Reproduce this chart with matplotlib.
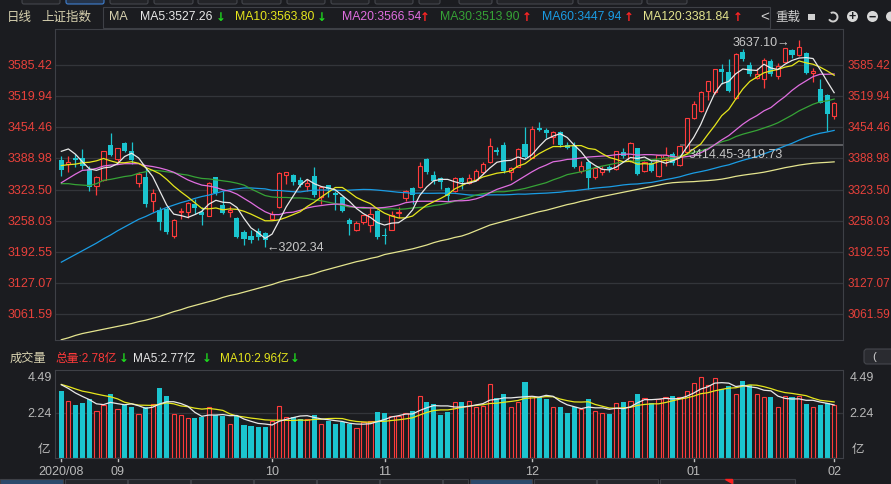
import numpy as np
import matplotlib
matplotlib.use('Agg')
import matplotlib.pyplot as plt
from matplotlib.patches import Rectangle, FancyBboxPatch, Circle, Arc

plt.rcParams['font.family'] = ['Liberation Sans', 'Noto Sans CJK SC', 'DejaVu Sans']

# ---------------- data ----------------
closes = [3363.90, 3380.68, 3385.64, 3373.58, 3329.74, 3350.59, 3403.81, 3395.68, 3410.61, 3404.80,
          3384.98, 3355.37, 3292.59, 3316.42, 3254.63, 3234.82, 3260.35, 3278.81, 3295.68, 3283.92,
          3270.44, 3338.09, 3316.94, 3274.30, 3279.71, 3223.18, 3219.42, 3217.53, 3224.36, 3218.05,
          3272.08, 3358.47, 3359.75, 3340.29, 3332.18, 3336.36, 3312.50, 3328.10, 3325.03, 3312.49,
          3278.00, 3251.12, 3254.32, 3269.24, 3272.74, 3224.53, 3225.12, 3271.07, 3277.44, 3320.13,
          3312.16, 3373.73, 3360.15, 3342.20, 3338.68, 3310.10, 3346.97, 3339.90, 3347.30, 3363.09,
          3377.73, 3414.49, 3402.82, 3362.33, 3369.73, 3408.31, 3391.76, 3451.94, 3449.38, 3442.14,
          3444.58, 3416.60, 3410.18, 3371.96, 3373.28, 3347.19, 3369.12, 3367.23, 3366.98, 3404.87,
          3394.90, 3420.57, 3356.78, 3382.32, 3363.11, 3396.56, 3397.29, 3379.04, 3414.45, 3473.07,
          3502.96, 3528.68, 3550.88, 3576.20, 3570.11, 3531.50, 3608.34, 3598.65, 3565.90, 3566.38,
          3596.22, 3566.26, 3583.09, 3621.26, 3606.75, 3624.24, 3569.43, 3573.34, 3505.18, 3483.07,
          3505.28]
opens = [3386, 3378, 3391, 3391, 3367, 3332, 3344, 3417, 3388, 3421,
         3404, 3337, 3349, 3300, 3281, 3283, 3225, 3276, 3276, 3293,
         3277, 3269, 3349, 3291, 3276, 3263, 3234, 3227, 3236, 3232,
         3262, 3287, 3354, 3354, 3344, 3332, 3353, 3307, 3333, 3316,
         3307, 3260, 3239, 3255, 3250, 3279, 3228, 3239, 3274, 3305,
         3326, 3328, 3388, 3354, 3347, 3326, 3321, 3347, 3337, 3344,
         3360, 3381, 3407, 3417, 3361, 3372, 3419, 3391, 3452, 3449.5,
         3435, 3445, 3417, 3417, 3363, 3381, 3349, 3360, 3370, 3367,
         3402, 3384, 3410, 3363, 3379, 3353, 3391, 3398, 3375, 3402,
         3474, 3489, 3530, 3528, 3577, 3571, 3517, 3612, 3585, 3559,
         3555, 3594, 3563, 3592, 3616, 3606, 3611, 3568, 3535, 3522,
         3479]
highs = [3395, 3395, 3398, 3409, 3374, 3353, 3405, 3442, 3412, 3423,
         3424, 3360, 3368, 3325, 3288, 3286, 3262, 3284, 3297, 3304,
         3286, 3340, 3351, 3321, 3290, 3265, 3239, 3239, 3242, 3235,
         3279, 3360, 3361, 3356, 3349, 3346, 3370, 3332, 3333, 3321,
         3311, 3264, 3258, 3270, 3288, 3281, 3242, 3279, 3286, 3322,
         3328, 3381, 3389, 3363, 3351, 3330, 3349, 3349, 3356, 3367,
         3381, 3431, 3414, 3423, 3370, 3410, 3456, 3458, 3465, 3454,
         3447, 3447, 3423, 3423, 3384, 3388, 3372, 3374, 3375, 3405,
         3412, 3423, 3412, 3384, 3384, 3397, 3414, 3402, 3415, 3475,
         3510, 3530, 3552, 3578, 3588, 3597, 3611, 3620, 3591, 3580,
         3600, 3597, 3590, 3622, 3620, 3637.10, 3612, 3580, 3556, 3524,
         3507]
lows = [3353, 3360, 3370, 3367, 3321, 3312, 3342, 3394, 3382, 3402,
        3377, 3330, 3286, 3277, 3239, 3230, 3221, 3262, 3263, 3272,
        3249, 3267, 3312, 3272, 3265, 3222, 3207, 3211, 3218, 3202.34,
        3260, 3285, 3335, 3333, 3328, 3321, 3307, 3293, 3307, 3280,
        3276, 3228, 3237, 3251, 3234, 3220, 3209, 3239, 3263, 3300,
        3293, 3326, 3356, 3335, 3325, 3300, 3319, 3325, 3335, 3342,
        3356, 3379, 3396, 3358, 3344, 3370, 3389, 3389, 3447, 3433,
        3419, 3414, 3409, 3368, 3358, 3325, 3346, 3355, 3360, 3365,
        3389, 3382, 3354, 3360, 3360, 3349, 3374, 3375, 3374, 3398,
        3472, 3487, 3512, 3524, 3545, 3528, 3515, 3594, 3563, 3556,
        3538, 3563, 3557, 3591, 3601, 3605, 3566, 3549, 3505, 3447,
        3472]
volumes = [3.66, 3.01, 2.76, 2.89, 3.16, 2.37, 2.78, 3.45, 2.51, 2.78,
           2.66, 2.20, 2.66, 2.83, 3.82, 3.32, 2.20, 2.14, 1.95, 1.95,
           2.04, 2.62, 2.16, 2.10, 1.58, 2.10, 1.52, 1.47, 1.41, 1.41,
           1.79, 2.68, 2.04, 1.99, 1.89, 1.89, 2.14, 1.58, 1.74, 1.58,
           1.68, 1.58, 1.33, 1.68, 1.74, 2.31, 2.26, 2.10, 2.10, 2.24,
           2.37, 3.30, 2.93, 2.83, 2.14, 2.35, 2.93, 2.97, 2.99, 2.62,
           2.72, 4.07, 3.20, 3.45, 2.62, 2.93, 4.18, 3.35, 3.24, 3.14,
           2.62, 2.66, 2.24, 2.66, 2.51, 3.14, 2.41, 2.24, 2.20, 2.87,
           2.97, 2.99, 3.45, 3.20, 2.89, 3.14, 3.24, 3.30, 3.26, 3.62,
           4.12, 4.49, 4.01, 4.43, 3.76, 3.97, 3.45, 4.28, 4.03, 3.45,
           3.24, 3.25, 2.65, 3.30, 3.25, 3.30, 2.80, 2.64, 2.75, 2.88,
           2.78]
ma5 = [3404, 3409, 3398, 3382, 3367, 3364, 3369, 3371, 3378, 3393,
       3400, 3390, 3370, 3351, 3321, 3291, 3272, 3269, 3265, 3271,
       3278, 3293, 3301, 3297, 3296, 3286, 3263, 3243, 3233, 3221,
       3230, 3258, 3287, 3310, 3333, 3345, 3336, 3330, 3327, 3323,
       3311, 3299, 3284, 3273, 3265, 3254, 3249, 3253, 3254, 3264,
       3281, 3311, 3329, 3342, 3345, 3345, 3340, 3336, 3337, 3341,
       3355, 3369, 3381, 3384, 3385, 3392, 3387, 3397, 3414, 3429,
       3436, 3441, 3433, 3417, 3403, 3384, 3374, 3366, 3365, 3371,
       3381, 3391, 3389, 3392, 3384, 3384, 3379, 3384, 3390, 3412,
       3433, 3460, 3494, 3526, 3546, 3551, 3567, 3577, 3575, 3574,
       3587, 3579, 3576, 3587, 3595, 3600, 3601, 3599, 3576, 3551,
       3527.26]
ma10 = [3374, 3376, 3377, 3380, 3381, 3384, 3389, 3384, 3380, 3380,
        3382, 3379, 3370, 3364, 3357, 3345, 3331, 3319, 3308, 3296,
        3284, 3283, 3285, 3281, 3283, 3282, 3278, 3272, 3265, 3258,
        3258, 3260, 3265, 3271, 3277, 3288, 3297, 3308, 3318, 3328,
        3328, 3318, 3307, 3300, 3294, 3283, 3274, 3268, 3264, 3264,
        3268, 3280, 3291, 3298, 3305, 3313, 3325, 3332, 3339, 3343,
        3350, 3354, 3358, 3360, 3363, 3373, 3378, 3389, 3399, 3407,
        3414, 3414, 3415, 3416, 3416, 3410, 3408, 3399, 3391, 3387,
        3382, 3383, 3377, 3378, 3377, 3382, 3385, 3386, 3391, 3398,
        3409, 3419, 3439, 3458, 3479, 3492, 3514, 3535, 3551, 3560,
        3569, 3573, 3576, 3581, 3584, 3594, 3590, 3587, 3581, 3573,
        3563.80]
ma20 = [3338, 3347, 3356, 3364, 3365, 3368, 3373, 3375, 3376, 3378,
        3378, 3378, 3374, 3372, 3369, 3365, 3360, 3352, 3344, 3338,
        3333, 3331, 3328, 3323, 3320, 3314, 3305, 3296, 3286, 3277,
        3271, 3271, 3275, 3276, 3280, 3285, 3288, 3290, 3292, 3293,
        3293, 3289, 3286, 3286, 3285, 3285, 3286, 3288, 3291, 3296,
        3298, 3299, 3299, 3299, 3299, 3298, 3300, 3300, 3301, 3304,
        3309, 3317, 3324, 3329, 3334, 3343, 3352, 3361, 3369, 3375,
        3382, 3384, 3387, 3388, 3390, 3392, 3393, 3394, 3395, 3397,
        3398, 3398, 3396, 3397, 3397, 3396, 3396, 3393, 3391, 3393,
        3395, 3401, 3408, 3418, 3428, 3437, 3449, 3461, 3471, 3479,
        3489, 3496, 3508, 3519, 3532, 3543, 3552, 3561, 3566, 3566,
        3566.54]
ma30 = [3336, 3336, 3334, 3333, 3332, 3336, 3343, 3345, 3348, 3351,
        3353, 3358, 3361, 3364, 3363, 3361, 3359, 3356, 3354, 3350,
        3347, 3346, 3344, 3342, 3340, 3337, 3333, 3325, 3318, 3311,
        3308, 3307, 3307, 3306, 3306, 3305, 3302, 3300, 3297, 3294,
        3290, 3287, 3286, 3284, 3285, 3284, 3283, 3283, 3282, 3283,
        3285, 3286, 3287, 3290, 3292, 3295, 3299, 3303, 3307, 3312,
        3315, 3317, 3319, 3319, 3321, 3323, 3326, 3330, 3334, 3338,
        3344, 3349, 3355, 3358, 3361, 3365, 3370, 3373, 3376, 3379,
        3382, 3384, 3383, 3385, 3386, 3388, 3390, 3391, 3394, 3397,
        3402, 3405, 3410, 3417, 3424, 3428, 3435, 3440, 3444, 3448,
        3453, 3458, 3464, 3472, 3480, 3489, 3496, 3503, 3508, 3510,
        3513.90]
ma60 = [3171, 3179, 3187, 3195, 3203, 3211, 3220, 3228, 3237, 3245,
        3253, 3261, 3267, 3274, 3280, 3286, 3291, 3296, 3300, 3305,
        3309, 3312, 3316, 3320, 3323, 3325, 3327, 3327, 3326, 3325.1,
        3322.1, 3321.7, 3320.3, 3319.1, 3318.6, 3320.7, 3322.3, 3322.6, 3322.6, 3322.3,
        3321.5, 3322.4, 3323.2, 3323.9, 3323.6, 3322.5, 3321.1, 3319.5, 3317.9, 3317.0,
        3315.7, 3316.1, 3315.7, 3315.8, 3316.1, 3315.9, 3315.7, 3314.0, 3312.3, 3311.6,
        3311.8, 3312.4, 3312.6, 3312.5, 3313.1, 3314.1, 3313.9, 3314.8, 3315.5, 3316.1,
        3317.1, 3318.1, 3320.1, 3321.0, 3323.0, 3324.8, 3326.7, 3328.1, 3329.3, 3331.3,
        3333.4, 3334.8, 3335.4, 3337.2, 3338.6, 3341.5, 3344.5, 3347.2, 3350.3, 3354.6,
        3358.4, 3361.3, 3364.5, 3368.4, 3372.4, 3375.6, 3380.5, 3385.1, 3389.1, 3393.3,
        3398.6, 3403.9, 3409.3, 3415.2, 3420.8, 3427.4, 3433.2, 3438.2, 3442.0, 3444.7,
        3447.94]
ma120 = [3008, 3012, 3017, 3021, 3024, 3027, 3030, 3033, 3036, 3039,
         3042, 3046, 3049, 3053, 3057, 3062, 3067, 3071, 3076, 3080,
         3084, 3088, 3092, 3097, 3101, 3104, 3108, 3112, 3116, 3120,
         3124, 3129, 3133, 3136, 3140, 3143, 3147, 3152, 3156, 3160,
         3164, 3168, 3172, 3175, 3179, 3182, 3187, 3190, 3193, 3196,
         3199, 3203, 3207, 3212, 3216, 3219, 3223, 3226, 3231, 3237,
         3243, 3249, 3253, 3257, 3261, 3265, 3269, 3273, 3277, 3280,
         3284, 3288, 3292, 3295, 3299, 3302, 3306, 3309, 3312, 3315,
         3318, 3321, 3324, 3327, 3330, 3333, 3336, 3338, 3339, 3339.8,
         3340.3, 3341.5, 3342.4, 3343.7, 3345.5, 3348.2, 3351.4, 3353.8, 3355.9, 3357.8,
         3360.1, 3363.1, 3366.3, 3369.6, 3372.2, 3375.0, 3377.1, 3378.9, 3380.0, 3380.8,
         3381.84]
vol_ma5 = [4.03, 3.80, 3.52, 3.30, 3.10, 2.84, 2.79, 2.93, 2.85, 2.78,
           2.84, 2.72, 2.56, 2.63, 2.83, 2.97, 2.97, 2.86, 2.69, 2.31,
           2.06, 2.14, 2.14, 2.17, 2.10, 2.11, 1.89, 1.75, 1.62, 1.58,
           1.52, 1.75, 1.87, 1.98, 2.08, 2.10, 1.99, 1.90, 1.85, 1.79,
           1.74, 1.63, 1.58, 1.57, 1.60, 1.73, 1.86, 2.02, 2.10, 2.20,
           2.21, 2.42, 2.59, 2.73, 2.71, 2.71, 2.64, 2.64, 2.68, 2.77,
           2.85, 3.07, 3.12, 3.21, 3.21, 3.25, 3.28, 3.31, 3.26, 3.37,
           3.31, 3.00, 2.78, 2.66, 2.54, 2.64, 2.59, 2.59, 2.50, 2.57,
           2.54, 2.65, 2.90, 3.10, 3.10, 3.13, 3.18, 3.15, 3.17, 3.31,
           3.51, 3.76, 3.90, 4.13, 4.16, 4.13, 3.92, 3.98, 3.90, 3.84,
           3.69, 3.65, 3.32, 3.18, 3.14, 3.15, 3.06, 3.06, 2.95, 2.87,
           2.77]
vol_ma10 = [4.05, 3.92, 3.77, 3.63, 3.55, 3.45, 3.36, 3.28, 3.15, 2.94,
            2.84, 2.76, 2.75, 2.74, 2.81, 2.90, 2.84, 2.71, 2.66, 2.57,
            2.51, 2.55, 2.50, 2.43, 2.21, 2.08, 2.02, 1.95, 1.90, 1.84,
            1.82, 1.82, 1.81, 1.80, 1.83, 1.81, 1.87, 1.88, 1.92, 1.93,
            1.92, 1.81, 1.74, 1.71, 1.69, 1.74, 1.75, 1.80, 1.84, 1.90,
            1.97, 2.14, 2.30, 2.42, 2.46, 2.46, 2.53, 2.62, 2.70, 2.74,
            2.78, 2.86, 2.88, 2.94, 2.99, 3.05, 3.18, 3.21, 3.24, 3.29,
            3.28, 3.14, 3.04, 2.96, 2.95, 2.97, 2.80, 2.69, 2.58, 2.56,
            2.59, 2.62, 2.74, 2.80, 2.84, 2.84, 2.92, 3.03, 3.13, 3.21,
            3.32, 3.47, 3.53, 3.65, 3.74, 3.82, 3.84, 3.94, 4.02, 4.00,
            3.91, 3.79, 3.65, 3.54, 3.49, 3.42, 3.35, 3.19, 3.06, 3.01,
            2.96]

date_idx = [0, 8, 30, 46, 67, 90, 110]
date_labels = ['2020/08', '09', '10', '11', '12', '01', '02']
price_ticks = [3585.42, 3519.94, 3454.46, 3388.98, 3323.50, 3258.03, 3192.55, 3127.07, 3061.59]
price_tick_labels = ['3585.42', '3519.94', '3454.46', '3388.98', '3323.50', '3258.03', '3192.55', '3127.07', '3061.59']
vol_ticks = [4.49, 2.24]
vol_tick_labels = ['4.49', '2.24']
band_low, band_high = 3414.45, 3419.73
band_start = 88
max_idx, max_val = 105, 3637.10
min_idx, min_val = 29, 3202.34

# ---------------- style ----------------
W, H = 891, 485
BG = '#1b1c20'
GRID = '#33353a'
BORDER = '#3e4046'
RED = '#ff3b3b'
CYAN = '#1bc4cf'
LBL_RED = '#e8413b'
GTXT = '#b9b9b9'
BEIGE = '#d6d0ae'
GREEN_ARW = '#1ed81e'
RED_ARW = '#ff2424'
C5, C10, C20, C30, C60, C120 = '#e8e8e8', '#e6e61c', '#e06ee0', '#36a336', '#1a9ce4', '#e4e48e'
ARW_FONT = ['DejaVu Sans']

fig = plt.figure(figsize=(W / 100, H / 100), dpi=100, facecolor=BG)

def pax(x0, y0, x1, y1):
    return fig.add_axes([x0 / W, 1 - y1 / H, (x1 - x0) / W, (y1 - y0) / H])

bg = pax(0, 0, W, H)
bg.set_xlim(0, W)
bg.set_ylim(H, 0)
bg.axis('off')

def T(x, y, s, color, ha='left', size=9, **kw):
    bg.text(x, y, s, color=color, ha=ha, va='center', fontsize=size, **kw)

def ARW(x, y, s, color):
    bg.text(x, y, s, color=color, ha='left', va='center', fontsize=8.5, fontweight='bold', family=ARW_FONT)

# top tab strip (cut off by the image edge)
for x0, x1, hl in [(22, 60, False), (66, 104, True), (110, 148, False), (154, 193, False), (198, 237, False),
                   (242, 281, False), (287, 325, False), (331, 369, False), (375, 413, False), (419, 440, False),
                   (459, 492, False), (497, 573, False), (578, 642, False), (647, 687, False)]:
    bg.add_patch(FancyBboxPatch((x0, -8), x1 - x0, 13, boxstyle='round,pad=0,rounding_size=2',
                                facecolor='#25344a' if hl else '#232428',
                                edgecolor='#3f7fd0' if hl else '#44464c', lw=0.8))

# header row
T(19, 17.5, '日线', BEIGE, ha='center')
T(66, 17.5, '上证指数', BEIGE, ha='center')
bg.add_patch(Rectangle((103, 7.5), 667, 21.5, facecolor='none', edgecolor=BORDER, lw=0.8))
T(109, 17.5, 'MA', BEIGE)
hdr = [(140, 'MA5:3527.26', C5, 216, '↓', GREEN_ARW),
       (235, 'MA10:3563.80', C10, 317, '↓', GREEN_ARW),
       (342, 'MA20:3566.54', C20, 420, '↑', RED_ARW),
       (440, 'MA30:3513.90', C30, 522, '↑', RED_ARW),
       (542, 'MA60:3447.94', C60, 624, '↑', RED_ARW),
       (643, 'MA120:3381.84', C120, 733, '↑', RED_ARW)]
for x, s, c, ax_, a, ac in hdr:
    T(x, 17.5, s, c, size=8.8)
    ARW(ax_, 17.5, a, ac)
T(760, 17, '<', '#d0d0d0', size=11)
T(775, 17.5, '重载', '#d0d0d0')
bg.add_patch(Rectangle((808, 15), 7, 6, facecolor='#d0d0d0', edgecolor='none'))
bg.add_patch(Arc((811.5, 15), 5, 7, theta1=0, theta2=180, color='#d0d0d0', lw=1.2))
bg.add_patch(Arc((833, 18), 9, 9, theta1=-120, theta2=150, color='#d0d0d0', lw=1.4))
for cx, sym in [(852.5, '+'), (872.5, '−')]:
    bg.add_patch(Circle((cx, 17.5), 5.5, facecolor='#d8d8d8', edgecolor='none'))
    T(cx, 17.2, sym, BG, ha='center', size=9, fontweight='bold')
bg.add_patch(Circle((891, 17.5), 5, facecolor='#d8d8d8', edgecolor='none'))

# volume header
T(10, 359, '成交量', BEIGE, size=8.8)
T(55, 359, '总量:2.78亿', '#ff3a3a', size=8.5)
ARW(119, 359, '↓', GREEN_ARW)
T(133, 359, 'MA5:2.77亿', C5, size=8.5)
ARW(202, 359, '↓', GREEN_ARW)
T(220, 359, 'MA10:2.96亿', C10, size=8.5)
ARW(290, 359, '↓', GREEN_ARW)
bg.add_patch(FancyBboxPatch((864, 350), 30, 15, boxstyle='round,pad=0,rounding_size=3',
                            facecolor='#2a2b30', edgecolor='#45474d', lw=0.8))
T(872, 357, '(', '#cfcfcf', size=8)

# bottom tabs (cut off by the image edge)
for x0, x1, hl in [(0, 63, True), (65, 127, False), (128, 190, False), (191, 253, False), (254, 316, False),
                   (317, 379, False), (380, 442, False), (443, 468, False), (470, 532, True), (534, 596, False),
                   (597, 658, False), (660, 732, False), (733, 795, False)]:
    bg.add_patch(Rectangle((x0, 480), x1 - x0, 10, facecolor='#2c4a6c' if hl else '#25262b',
                           edgecolor='#3e4046', lw=0.8))
bg.add_patch(plt.Polygon([[725, 480], [732, 480], [732, 484]], color='#ff2020'))

# ---------------- price panel ----------------
n = len(closes)
xs = np.arange(n)
XL = (-0.9, 111.26)
ax = pax(55, 30, 843, 341)
ax.set_facecolor(BG)
ax.set_xlim(*XL)
ax.set_ylim(3007.4, 3661.1)
ax.set_xticks([])
ax.set_yticks([])
for s in ax.spines.values():
    s.set_color(BORDER)
    s.set_linewidth(0.8)
for p in price_ticks:
    ax.axhline(p, color=GRID, lw=0.9, zorder=0)
ytr = ax.get_yaxis_transform()
for p, s in zip(price_ticks, price_tick_labels):
    ax.text(-0.003, p, s, transform=ytr, ha='right', va='center', color=LBL_RED, fontsize=9, clip_on=False)
    ax.text(1.006, p, s, transform=ytr, ha='left', va='center', color=LBL_RED, fontsize=8.5, clip_on=False)

ax.fill_between([band_start, XL[1]], band_low, band_high, color='#5c5d61', lw=0, zorder=1)

for i in xs:
    o, c, h, l = opens[i], closes[i], highs[i], lows[i]
    up = c >= o
    col = RED if up else CYAN
    ax.vlines(i, l, h, color=col, lw=0.9, zorder=2)
    lo, hh = min(o, c), abs(c - o)
    if up:
        ax.bar(i, max(hh, 0.6), bottom=lo, width=0.6, facecolor=BG, edgecolor=RED, lw=0.8, zorder=3)
    else:
        ax.bar(i, max(hh, 0.6), bottom=lo, width=0.72, color=CYAN, lw=0, zorder=3)

for arr, c in [(ma120, C120), (ma60, C60), (ma30, C30), (ma20, C20), (ma10, C10), (ma5, C5)]:
    ax.plot(xs, arr, color=c, lw=0.9, zorder=4)

ax.text(max_idx - 1.3, max_val - 4, f'{max_val:.2f}→', color='#c8c8c8', ha='right', va='center',
        fontsize=9, zorder=5)
ax.text(min_idx + 0.25, min_val, f'←{min_val:.2f}', color='#c8c8c8', ha='left', va='center',
        fontsize=9, zorder=5)
ax.text(band_start + 1.3, 3398.3, f'{band_low:.2f}-{band_high:.2f}', color='#c8c8c8', ha='left',
        va='center', fontsize=9, zorder=5)

# ---------------- volume panel ----------------
VB = -0.54
vx = pax(55, 371, 843, 459)
vx.set_facecolor(BG)
vx.set_xlim(*XL)
vx.set_ylim(VB, 4.95)
vx.set_xticks([])
vx.set_yticks([])
for s in vx.spines.values():
    s.set_color(BORDER)
    s.set_linewidth(0.8)
vx.axhline(2.24, color=GRID, lw=0.9, zorder=0)
for i in xs:
    up = closes[i] >= opens[i]
    if up:
        vx.bar(i, volumes[i] - VB, bottom=VB, width=0.6, facecolor=BG, edgecolor=RED, lw=0.8, zorder=2)
    else:
        vx.bar(i, volumes[i] - VB, bottom=VB, width=0.72, color=CYAN, lw=0, zorder=2)
vx.plot(xs, vol_ma10, color=C10, lw=0.9, zorder=3)
vx.plot(xs, vol_ma5, color=C5, lw=0.9, zorder=3)
vtr = vx.get_yaxis_transform()
for p, s in zip(vol_ticks, vol_tick_labels):
    vx.text(-0.004, p, s, transform=vtr, ha='right', va='center', color=GTXT, fontsize=9, clip_on=False)
    vx.text(1.0085, p, s, transform=vtr, ha='left', va='center', color=GTXT, fontsize=9, clip_on=False)
vx.text(-0.006, 0.0, '亿', transform=vtr, ha='right', va='center', color=GTXT, fontsize=9, clip_on=False)
vx.text(1.011, 0.0, '亿', transform=vtr, ha='left', va='center', color=GTXT, fontsize=9, clip_on=False)
xtr = vx.get_xaxis_transform()
for i, s in zip(date_idx, date_labels):
    vx.plot([i, i], [0, -0.035], transform=xtr, color='#c0c0c0', lw=1, clip_on=False)
    vx.text(i, -0.145, s, transform=xtr, ha='center', va='center', color=GTXT, fontsize=9, clip_on=False)

fig.savefig('out.png', dpi=100, facecolor=BG)
